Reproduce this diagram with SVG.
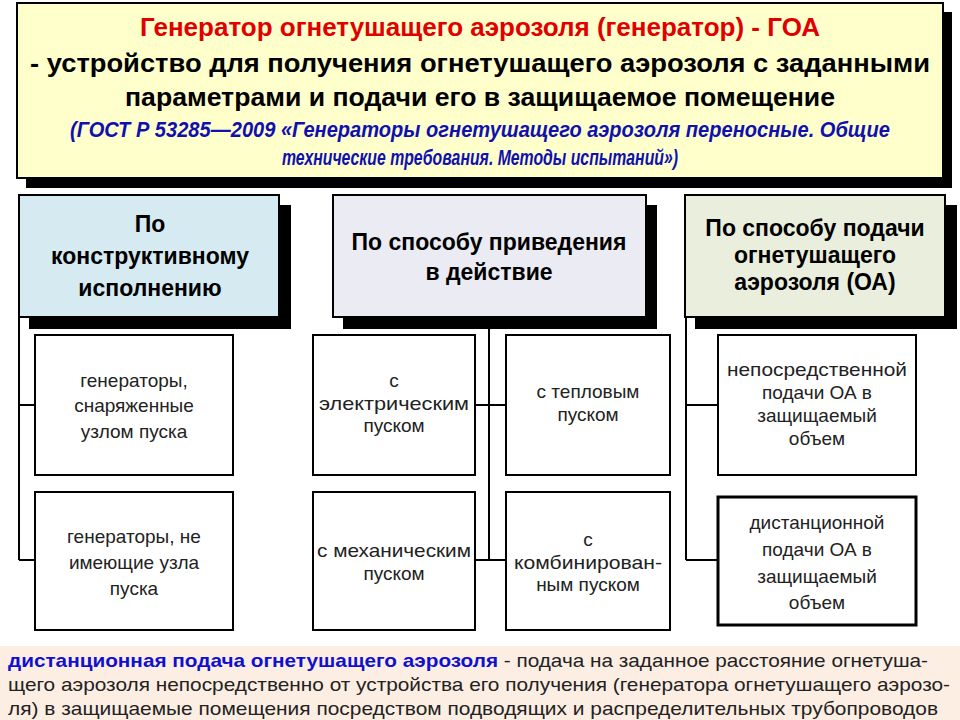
<svg xmlns="http://www.w3.org/2000/svg" width="960" height="720" viewBox="0 0 960 720">
<style>
.sh{fill:#000}
.b{stroke:#000;stroke-width:2}
.t{font-family:"Liberation Sans",Arial,sans-serif;text-anchor:middle}
.h{font-size:23px;font-weight:bold;fill:#000}
.c{font-size:19px;fill:#222}
.ln{fill:none;stroke:#000;stroke-width:2}
</style>
<rect width="960" height="720" fill="#fff"/>
<g id="header">
<rect class="sh" x="26" y="12" width="926" height="176"/>
<rect class="b" x="17" y="3" width="926" height="175" fill="#ffffcc"/>
<text class="t" x="480" y="36" font-size="25" font-weight="bold" fill="#e00000" textLength="680" lengthAdjust="spacingAndGlyphs">Генератор огнетушащего аэрозоля (генератор) - ГОА</text>
<text class="t" x="480" y="72" font-size="26" font-weight="bold" fill="#000" textLength="900" lengthAdjust="spacingAndGlyphs">- устройство для получения огнетушащего аэрозоля с заданными</text>
<text class="t" x="480" y="106" font-size="26" font-weight="bold" fill="#000" textLength="710" lengthAdjust="spacingAndGlyphs">параметрами и подачи его в защищаемое помещение</text>
<text class="t" x="480" y="137" font-size="22" font-weight="bold" font-style="italic" fill="#1010b0" textLength="820" lengthAdjust="spacingAndGlyphs">(ГОСТ Р 53285—2009 «Генераторы огнетушащего аэрозоля переносные. Общие</text>
<text class="t" x="480" y="165" font-size="22" font-weight="bold" font-style="italic" fill="#1010b0" textLength="396" lengthAdjust="spacingAndGlyphs">технические требования. Методы испытаний»)</text>
</g>
<g id="connectors">
<path class="ln" d="M19 317V560M19 405H35M19 560H35"/>
<path class="ln" d="M489 317V560M475 405H506M475 560H506"/>
<path class="ln" d="M686 317V560M686 405H718M686 560H718"/>
</g>
<g id="cat1">
<rect class="sh" x="29" y="205" width="262" height="124"/>
<rect class="b" x="19" y="195" width="260" height="122" fill="#d5ebf1"/>
<text class="t h" x="150" y="232">По</text>
<text class="t h" x="150" y="264">конструктивному</text>
<text class="t h" x="150" y="296">исполнению</text>
</g>
<g id="cat2">
<rect class="sh" x="343" y="205" width="314" height="124"/>
<rect class="b" x="333" y="195" width="313" height="122" fill="#ebebf3"/>
<text class="t h" x="489" y="250">По способу приведения</text>
<text class="t h" x="489" y="280">в действие</text>
</g>
<g id="cat3">
<rect class="sh" x="695" y="205" width="262" height="124"/>
<rect class="b" x="685" y="195" width="260" height="122" fill="#e9eedd"/>
<text class="t h" x="815" y="236">По способу подачи</text>
<text class="t h" x="815" y="263">огнетушащего</text>
<text class="t h" x="815" y="290">аэрозоля (ОА)</text>
</g>
<g id="n1"><rect class="b" x="35" y="335" width="198" height="140" fill="#fff"/>
<text class="t c" x="134" y="387">генераторы,</text><text class="t c" x="134" y="412">снаряженные</text><text class="t c" x="134" y="438">узлом пуска</text></g>
<g id="n2"><rect class="b" x="35" y="492" width="198" height="138" fill="#fff"/>
<text class="t c" x="134" y="543">генераторы, не</text><text class="t c" x="134" y="569">имеющие узла</text><text class="t c" x="134" y="595">пуска</text></g>
<g id="n3"><rect class="b" x="313" y="335" width="162" height="140" fill="#fff"/>
<text class="t c" x="394" y="387">с</text><text class="t c" x="394" y="410" textLength="150" lengthAdjust="spacingAndGlyphs">электрическим</text><text class="t c" x="394" y="432">пуском</text></g>
<g id="n4"><rect class="b" x="313" y="492" width="162" height="138" fill="#fff"/>
<text class="t c" x="394" y="557" textLength="154" lengthAdjust="spacingAndGlyphs">с механическим</text><text class="t c" x="394" y="580">пуском</text></g>
<g id="n5"><rect class="b" x="506" y="335" width="164" height="140" fill="#fff"/>
<text class="t c" x="588" y="398">с тепловым</text><text class="t c" x="588" y="421">пуском</text></g>
<g id="n6"><rect class="b" x="506" y="492" width="164" height="138" fill="#fff"/>
<text class="t c" x="588" y="546">с</text><text class="t c" x="588" y="569" textLength="148" lengthAdjust="spacingAndGlyphs">комбинирован-</text><text class="t c" x="588" y="591">ным пуском</text></g>
<g id="n7"><rect class="b" x="718" y="335" width="198" height="140" fill="#fff"/>
<text class="t c" x="817" y="376" textLength="180" lengthAdjust="spacingAndGlyphs">непосредственной</text><text class="t c" x="817" y="399">подачи ОА в</text><text class="t c" x="817" y="422">защищаемый</text><text class="t c" x="817" y="445">объем</text></g>
<g id="n8"><rect x="718" y="497" width="198" height="128" fill="#fff" stroke="#000" stroke-width="3"/>
<text class="t c" x="817" y="529">дистанционной</text><text class="t c" x="817" y="556">подачи ОА в</text><text class="t c" x="817" y="583">защищаемый</text><text class="t c" x="817" y="609">объем</text></g>
<g id="note">
<rect x="0" y="646" width="960" height="74" fill="#fdeee3"/>
<text x="8" y="667" font-family="Liberation Sans,Arial,sans-serif" font-size="19" fill="#222" textLength="920" lengthAdjust="spacingAndGlyphs"><tspan fill="#1010d0" font-weight="bold">дистанционная подача огнетушащего аэрозоля</tspan> - подача на заданное расстояние огнетуша-</text>
<text x="8" y="691" font-family="Liberation Sans,Arial,sans-serif" font-size="19" fill="#222" textLength="942" lengthAdjust="spacingAndGlyphs">щего аэрозоля непосредственно от устройства его получения (генератора огнетушащего аэрозо-</text>
<text x="8" y="715" font-family="Liberation Sans,Arial,sans-serif" font-size="19" fill="#222" textLength="930" lengthAdjust="spacingAndGlyphs">ля) в защищаемые помещения посредством подводящих и распределительных трубопроводов</text>
</g>
</svg>
